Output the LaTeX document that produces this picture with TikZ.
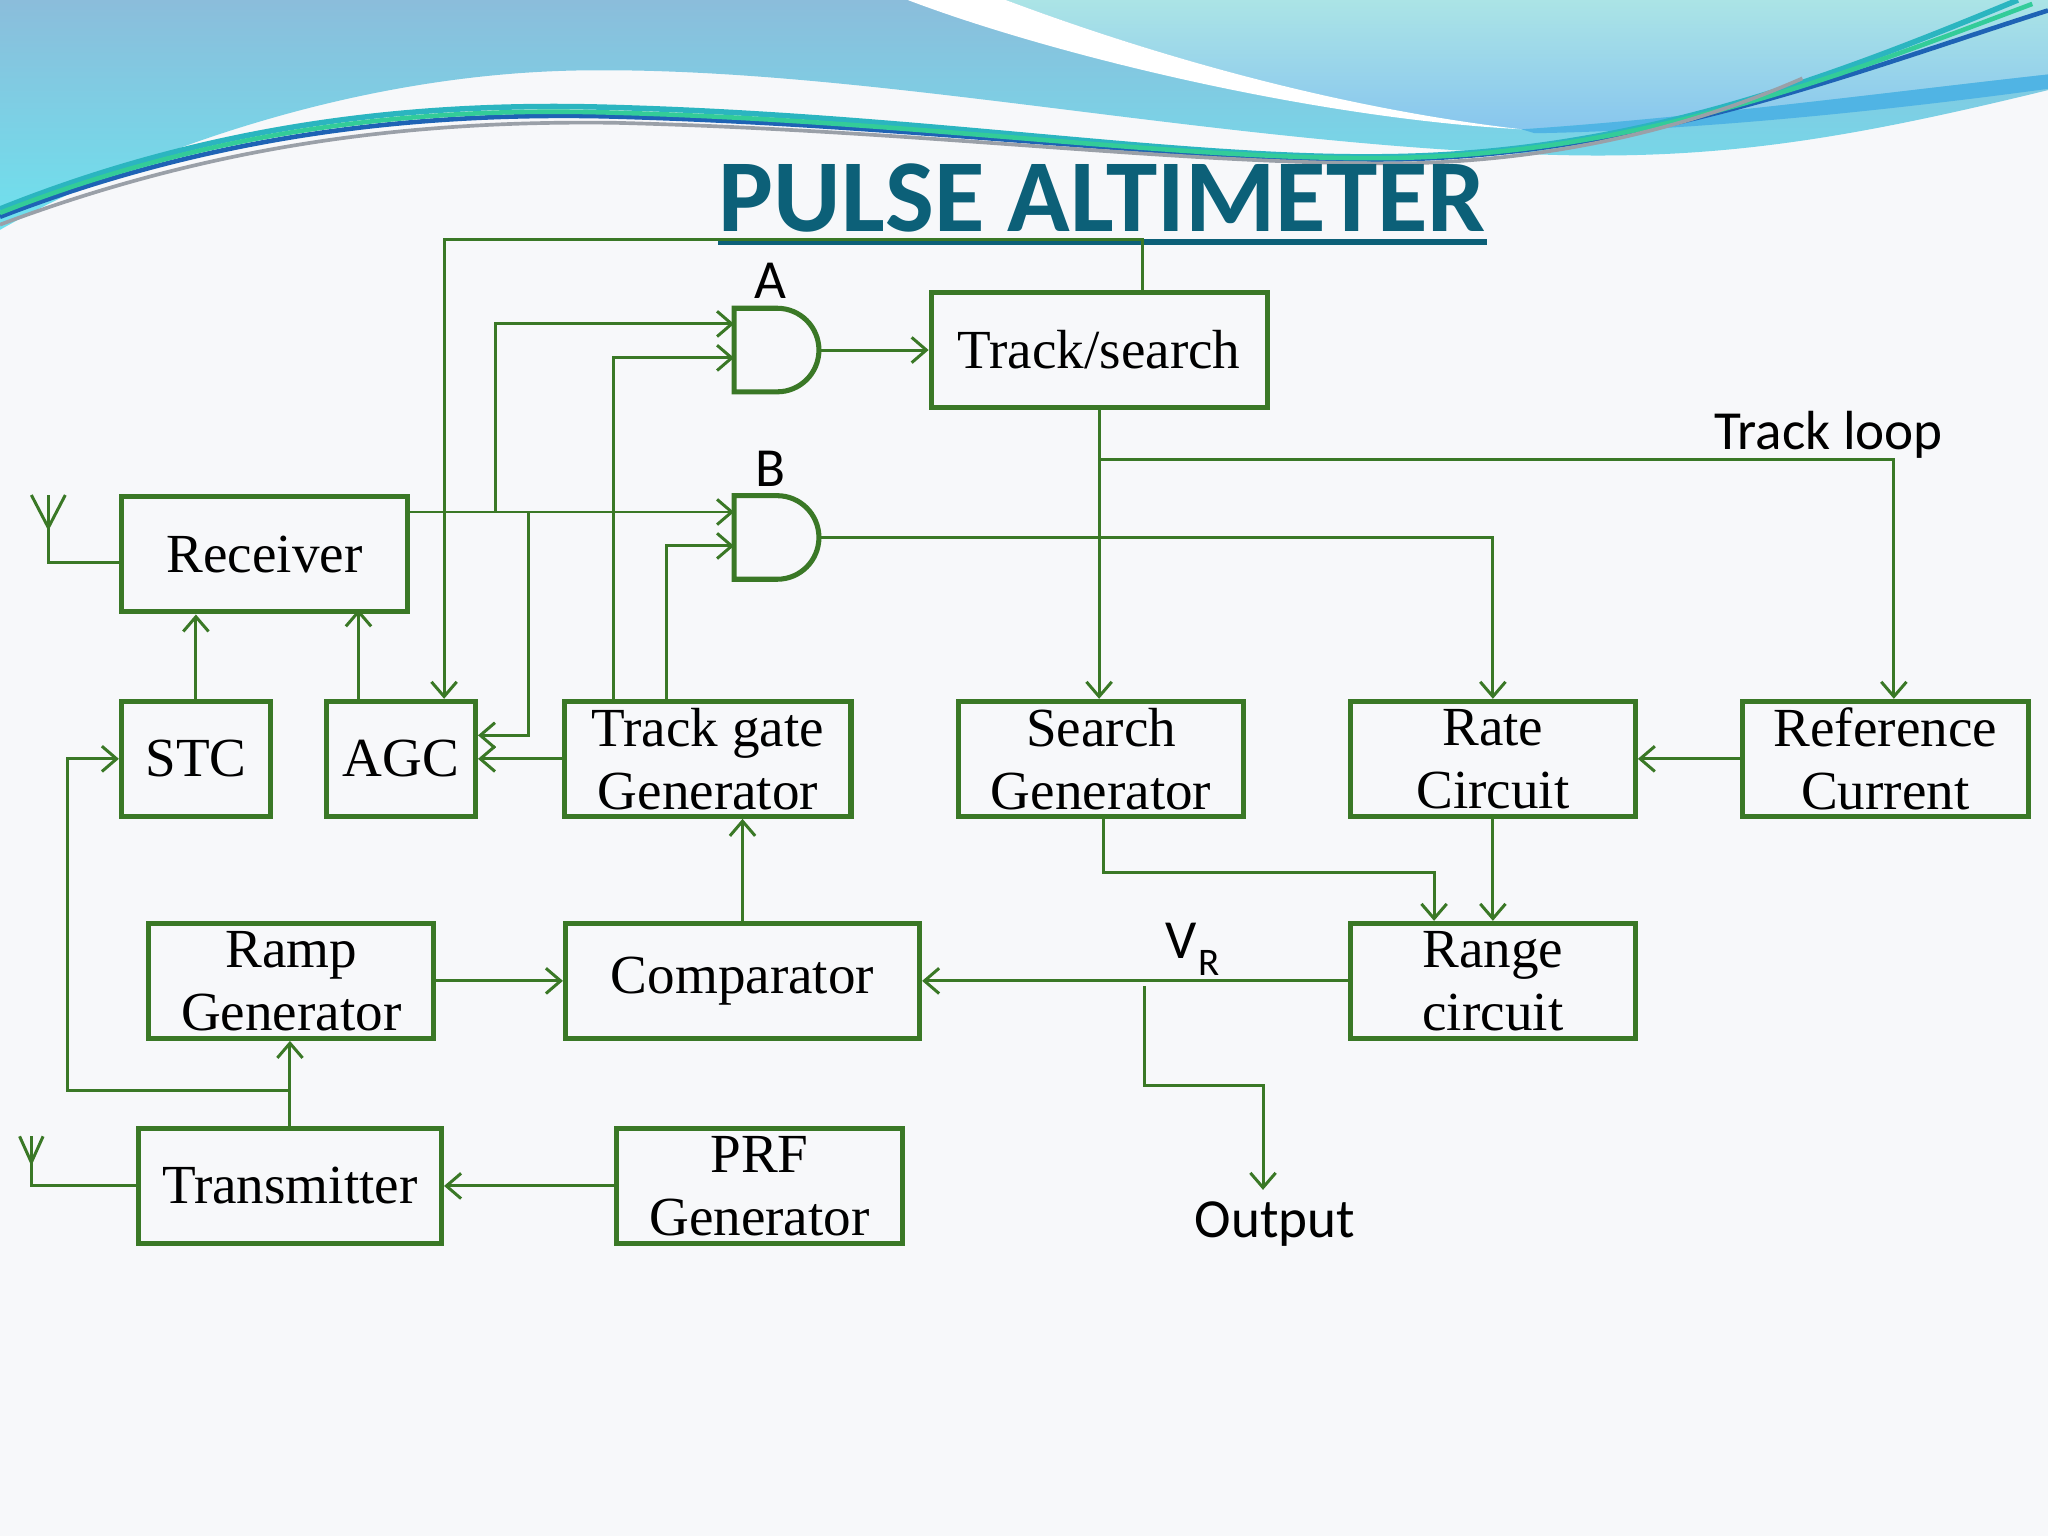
\documentclass[tikz,border=0pt]{standalone}
\usepackage{fontspec}
\setmainfont{Liberation Serif}
\newfontfamily\labfont{Carlito}
\usetikzlibrary{arrows.meta}
\definecolor{grn}{RGB}{58,120,38}
\definecolor{ttl}{RGB}{12,96,120}
\definecolor{bg}{RGB}{247,248,250}
\definecolor{skytop}{RGB}{139,189,219}
\definecolor{skybot}{RGB}{110,226,238}
\definecolor{rtop}{RGB}{171,228,230}
\definecolor{rbot}{RGB}{136,198,238}
\definecolor{band}{RGB}{80,180,228}
\definecolor{wteal}{RGB}{43,181,192}
\definecolor{wblue}{RGB}{30,99,181}
\definecolor{wgreen}{RGB}{51,204,153}
\definecolor{wgray}{RGB}{154,160,168}
\tikzset{
  blk/.style={draw=grn,line width=1.1pt,minimum height=0.88cm,inner sep=0pt,align=center,font=\fontsize{12}{13.7}\selectfont},
  ln/.style={draw=grn,line width=0.65pt},
  arr/.style={ln,-{Straight Barb[length=3.2pt,width=5.5pt]}},
  gate/.style={draw=grn,line width=1.1pt},
  lab/.style={font=\labfont\fontsize{12}{12}\selectfont,inner sep=0pt}
}
\begin{document}
\begin{tikzpicture}[x=0.01cm,y=-0.01cm]
\useasboundingbox (0,0) rectangle (1568,1176);
\fill[bg] (0,0) rectangle (1568,1176);
\shade[top color=skytop,bottom color=skybot]
  (0,0) -- (1568,0) -- (1568,69) .. controls (1400,110) and (1300,125) .. (1150,117)
  .. controls (900,105) and (650,50) .. (440,54) .. controls (250,58) and (80,130) .. (0,176) -- cycle;
\shade[top color=rtop,bottom color=rbot]
  (770,0) .. controls (850,30) and (1000,80) .. (1165,99) .. controls (1300,90) and (1450,70) .. (1568,57) -- (1568,0) -- cycle;
\fill[white] (695,0) .. controls (800,40) and (1000,90) .. (1165,99) .. controls (1000,80) and (850,30) .. (770,0) -- cycle;
\fill[band] (1165,99) .. controls (1300,90) and (1450,70) .. (1568,57) -- (1568,68)
  .. controls (1450,84) and (1300,100) .. (1175,102) -- cycle;
\draw[wteal,line width=1.2pt] (0,160) .. controls (150,100) and (300,78) .. (460,82)
  .. controls (700,88) and (900,122) .. (1060,120) .. controls (1250,118) and (1400,60) .. (1545,0);
\draw[wblue,line width=1pt] (0,166) .. controls (150,108) and (300,86) .. (460,89)
  .. controls (700,95) and (900,124) .. (1070,122) .. controls (1260,118) and (1420,55) .. (1568,8);
\draw[wgreen,line width=1pt] (0,163) .. controls (150,104) and (300,82) .. (460,86)
  .. controls (700,92) and (900,123) .. (1065,121) .. controls (1255,118) and (1410,58) .. (1556,3);
\draw[wgray,line width=0.8pt] (0,172) .. controls (160,112) and (310,92) .. (470,94)
  .. controls (710,100) and (910,127) .. (1080,125) .. controls (1200,122) and (1300,95) .. (1380,60);

\node[font=\labfont\bfseries\fontsize{22.5}{22.5}\selectfont,text=ttl,inner sep=0pt,anchor=base] (title) at (844,177) {PULSE ALTIMETER};
\draw[ttl,line width=0.045cm] ([yshift=-0.08cm]title.base west) -- ([yshift=-0.08cm]title.base east);

\node[blk,minimum width=2.57cm] (trs) at (841.5,268) {Track/search};
\node[blk,minimum width=2.19cm] (rcv) at (202.5,424.5) {Receiver};
\node[blk,minimum width=1.14cm] (stc) at (150,581) {STC};
\node[blk,minimum width=1.14cm] (agc) at (307,581) {AGC};
\node[blk,minimum width=2.19cm] (tgg) at (542,581) {Track gate\\Generator};
\node[blk,minimum width=2.18cm] (sg) at (843,581) {Search\\Generator};
\node[blk,minimum width=2.18cm] (rc) at (1143,581) {Rate\\Circuit};
\node[blk,minimum width=2.19cm] (refc) at (1443.5,581) {Reference\\Current};
\node[blk,minimum width=2.18cm] (ramp) at (223,751) {Ramp\\Generator};
\node[blk,minimum width=2.71cm] (cmp) at (568.5,751) {Comparator};
\node[blk,minimum width=2.18cm] (rng) at (1143,751) {Range\\circuit};
\node[blk,minimum width=2.32cm] (tx) at (222,908) {Transmitter};
\node[blk,minimum width=2.19cm] (prf) at (581.5,908) {PRF\\Generator};

\draw[gate] (562,236) -- (595,236) arc[start angle=-90,end angle=90,radius=32] -- (562,300) -- cycle;
\draw[gate] (562,379.5) -- (595,379.5) arc[start angle=-90,end angle=90,radius=32] -- (562,443.5) -- cycle;
\coordinate (a1) at (562,248);
\coordinate (a2) at (562,274);
\coordinate (ao) at (627,268);
\coordinate (b1) at (562,392);
\coordinate (b2) at (562,418);
\coordinate (bo) at (627,411.5);
\node[lab] (la) at (590,215) {A};
\node[lab] (lb) at (590,359) {B};

\coordinate (jt) at (340,183);
\coordinate (j1) at (379,392);
\coordinate (j2) at (405,392);
\coordinate (jl) at (842,352);
\coordinate (jo) at (876,755);
\coordinate (jx) at (222,835);

\draw[arr] ([xshift=0.335cm]trs.north) |- (jt) -- (agc.north -| jt);
\draw[arr] (rcv.east |- b1) -- (b1);
\draw[arr] (j1) |- (a1);
\draw[arr] (j2) |- ([yshift=0.18cm]agc.east);
\draw[arr] ([xshift=-0.72cm]tgg.north) |- (a2);
\draw[arr] ([xshift=-0.32cm]tgg.north) |- (b2);
\draw[arr] (tgg.west) -- (agc.east);
\draw[arr] (stc.north) -- (stc.north |- rcv.south);
\draw[arr] ([xshift=-0.325cm]agc.north) -- ++(0,-68.5);
\draw[arr] (ao) -- (trs.west);
\draw[arr] (bo) -| (rc.north);
\draw[arr] (trs.south) -- (trs.south |- sg.north);
\draw[arr] (jl) -| ([xshift=0.065cm]refc.north);
\node[lab] (tl) at (1400,333) {Track loop};
\draw[arr] ([xshift=0.02cm]sg.south) -- ++(0,41) -| ([xshift=-0.45cm]rng.north);
\draw[arr] (rc.south) -- (rng.north);
\draw[arr] (refc.west) -- (rc.east);
\draw[arr] (rng.west) -- (cmp.east);
\node[lab] (vr) at (913,727) {V\kern0.5pt\raisebox{-0.3em}{\fontsize{8.5}{8.5}\selectfont R}};
\node[lab,anchor=north] (out) at (976,919) {Output};
\draw[arr] (jo) -- ++(0,76) -| ([xshift=-0.09cm,yshift=0.08cm]out.north);
\draw[arr] (cmp.north) -- (cmp.north |- tgg.south);
\draw[arr] (ramp.east) -- (cmp.west);
\draw[arr] (tx.north) -- (tx.north |- ramp.south);
\draw[arr] (jx) -- ++(-170,0) |- (stc.west);
\draw[arr] (prf.west) -- (tx.east);

\draw[ln] ([yshift=-0.065cm]rcv.west) -- ++(-54,0) -- ++(0,-52) coordinate (ra);
\draw[ln] (ra) ++(-13,0) -- ++(13,25) -- ++(13,-25);
\draw[ln] (tx.west) -- ++(-80,0) -- ++(0,-38) coordinate (ta);
\draw[ln] (ta) ++(-9,0) -- ++(9,20) -- ++(9,-20);
\end{tikzpicture}
\end{document}
